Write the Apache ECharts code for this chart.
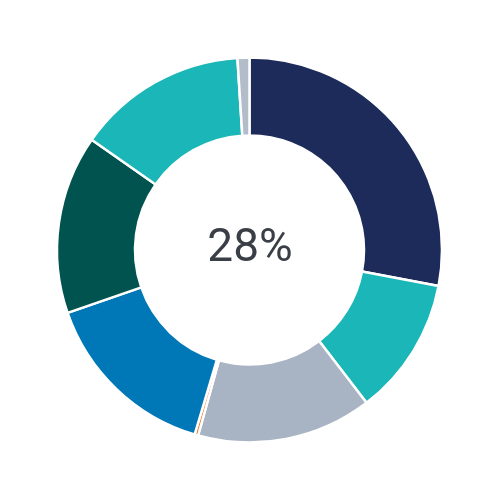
<!DOCTYPE html>
<html><head><meta charset="utf-8">
<script src="https://cdn.jsdelivr.net/npm/echarts@6/dist/echarts.min.js"></script>
<style>html,body{margin:0;padding:0;background:#fff;}#c{width:500px;height:500px;}</style>
</head><body><div id="c"></div>
<script>
const categories = ['A','B','C','D','E','F','G','H'];
const values = [28, 11.6, 14.7, 0.3, 15.1, 15.0, 14.3, 1.0];
const colors = ['#1c2b5a','#1bb6b8','#a8b4c3','#e87722','#0077b6','#00534f','#1bb6b8','#b3bdca'];
const centerLabel = '28%';

const chart = echarts.init(document.getElementById('c'), null, {renderer:'canvas'});
chart.setOption({
  animation:false,
  graphic:[{type:'text',left:'center',top:226,
    style:{text:centerLabel,font:'normal 46px Roboto',fill:'#3a3f47'}}],
  series:[{
    type:'pie',
    center:[249.5,250],
    radius:[114.5,192.5],
    startAngle:90,
    clockwise:true,
    label:{show:false},labelLine:{show:false},
    emphasis:{disabled:true},
    itemStyle:{borderColor:'#fff',borderWidth:2.5},
    data:categories.map((c,i)=>({name:c,value:values[i],itemStyle:{color:colors[i]}}))
  }]
});
</script></body></html>
